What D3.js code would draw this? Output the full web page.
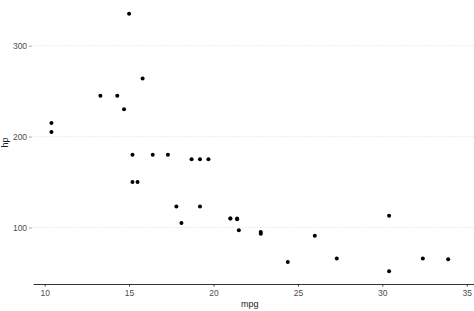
<!DOCTYPE html>
<html>
<head>
<meta charset="utf-8">
<script src="https://cdn.jsdelivr.net/npm/d3@7"></script>
<style>
  body { margin: 0; background: #fff; }
  text { font-family: "Liberation Sans", Arial, sans-serif; }
</style>
</head>
<body>
<script>
// mtcars: mpg vs hp
const mpg = [21.0, 21.0, 22.8, 21.4, 18.7, 18.1, 14.3, 24.4, 22.8, 19.2, 17.8, 16.4, 17.3, 15.2, 10.4, 10.4,
  14.7, 32.4, 30.4, 33.9, 21.5, 15.5, 15.2, 13.3, 19.2, 27.3, 26.0, 30.4, 15.8, 19.7, 15.0, 21.4];
const hp = [110, 110, 93, 110, 175, 105, 245, 62, 95, 123, 123, 180, 180, 180, 205, 215,
  230, 66, 52, 65, 97, 150, 150, 245, 175, 66, 91, 113, 264, 175, 335, 109];
const xTicks = [10, 15, 20, 25, 30, 35];
const yTicks = [100, 200, 300];

const width = 474, height = 311;
const margin = {top: 1, right: 6, bottom: 27, left: 31.6};

const points = mpg.map((m, i) => ({mpg: m, hp: hp[i]}));

const svg = d3.select('body').append('svg')
  .attr('width', width)
  .attr('height', height);

const xPad = (d3.max(mpg) - d3.min(mpg)) * 0.05;
const yPad = (d3.max(hp) - d3.min(hp)) * 0.05;

const x = d3.scaleLinear()
  .domain([d3.min(mpg) - xPad, d3.max(mpg) + xPad])
  .range([margin.left, width - margin.right]);

const y = d3.scaleLinear()
  .domain([d3.min(hp) - yPad, d3.max(hp) + yPad])
  .range([height - margin.bottom, margin.top]);

// horizontal grid
svg.append('g')
  .selectAll('line')
  .data(yTicks)
  .enter()
  .append('line')
  .attr('x1', margin.left)
  .attr('x2', width)
  .attr('y1', d => y(d))
  .attr('y2', d => y(d))
  .attr('stroke', '#e3e3e3')
  .attr('stroke-width', 0.8)
  .attr('stroke-dasharray', '1.5,1.5');

// x axis
const xAxis = svg.append('g')
  .attr('transform', `translate(0,${height - margin.bottom})`)
  .call(d3.axisBottom(x).tickValues(xTicks).tickSize(2.5).tickPadding(3).tickSizeOuter(0));
xAxis.select('.domain').attr('d', `M${margin.left + 2},0.5H${width}`).attr('stroke', '#333').attr('stroke-width', 1);
xAxis.selectAll('.tick line').attr('stroke', '#333');
xAxis.selectAll('text').attr('fill', '#4d4d4d').style('font-size', '8.5px');

// y axis (ticks only)
const yAxis = svg.append('g')
  .attr('transform', `translate(${margin.left},0)`)
  .call(d3.axisLeft(y).tickValues(yTicks).tickSize(2.5).tickPadding(2));
yAxis.select('.domain').remove();
yAxis.selectAll('.tick line').attr('stroke', '#999');
yAxis.selectAll('text').attr('fill', '#4d4d4d').style('font-size', '8.5px');

// points
svg.append('g')
  .selectAll('circle')
  .data(points)
  .enter()
  .append('circle')
  .attr('cx', d => x(d.mpg))
  .attr('cy', d => y(d.hp))
  .attr('r', 2)
  .attr('fill', '#000');

// axis titles
svg.append('text')
  .attr('x', (margin.left + width - margin.right) / 2)
  .attr('y', height - 4)
  .attr('text-anchor', 'middle')
  .attr('fill', '#222')
  .style('font-size', '9px')
  .text('mpg');

svg.append('text')
  .attr('transform', `translate(8,${(margin.top + height - margin.bottom) / 2}) rotate(-90)`)
  .attr('text-anchor', 'middle')
  .attr('fill', '#222')
  .style('font-size', '9px')
  .text('hp');
</script>
</body>
</html>
